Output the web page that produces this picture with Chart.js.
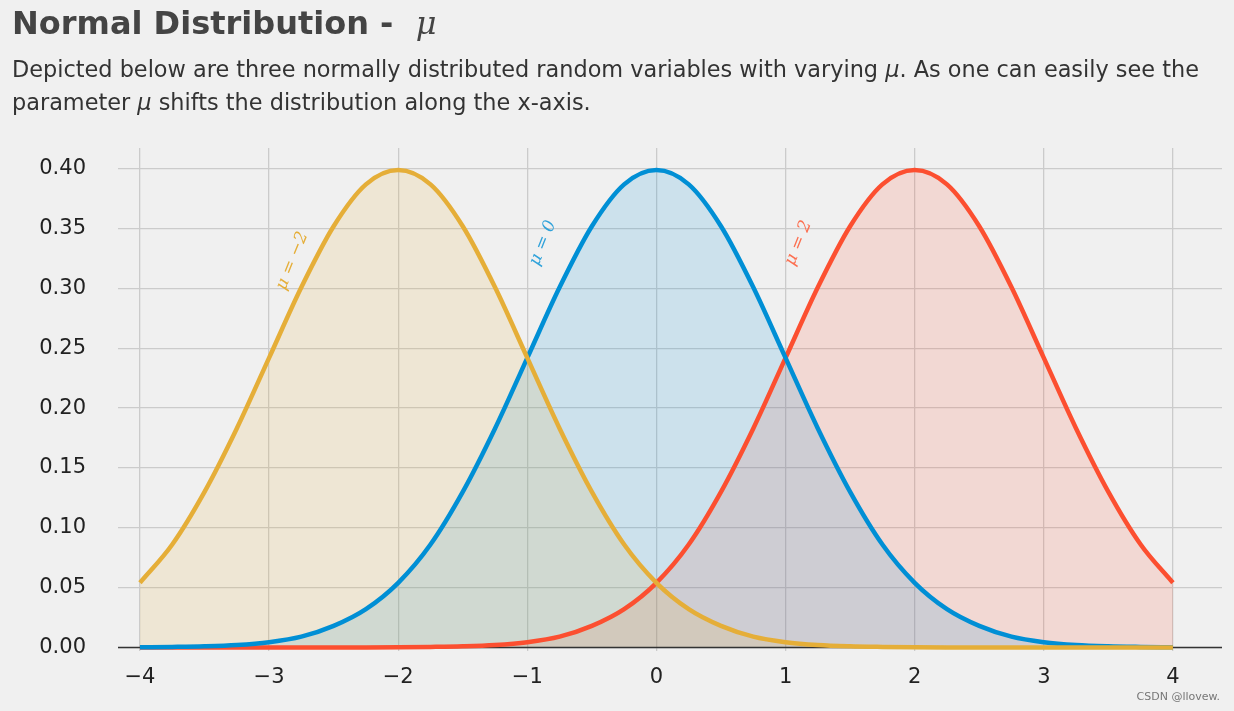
<!DOCTYPE html>
<html>
<head>
<meta charset="utf-8">
<script src="https://cdn.jsdelivr.net/npm/chart.js@4/dist/chart.umd.min.js"></script>
<style>
  body { margin: 0; background: #f0f0f0; font-family: "DejaVu Sans", sans-serif; }
  #wrap { position: relative; width: 1234px; height: 711px; }
  #title { position: absolute; left: 12px; top: 4px; font-size: 32px; font-weight: bold; color: #444; }
  #title i { font-weight: normal; font-family: "DejaVu Serif", serif; }
  #sub { position: absolute; left: 12px; top: 53px; font-size: 22.4px; line-height: 33px; color: #333; width: 1222px; }
  #mark { position: absolute; right: 14px; bottom: 8px; font-size: 11px; color: #777; }
  canvas { position: absolute; left: 0; top: 0; }
</style>
</head>
<body>
<div id="wrap">
  <canvas id="c" width="1234" height="711"></canvas>
  <div id="title">Normal Distribution -&nbsp; <i>μ</i></div>
  <div id="sub">Depicted below are three normally distributed random variables with varying <i>μ</i>. As one can easily see the parameter <i>μ</i> shifts the distribution along the x-axis.</div>
  <div id="mark">CSDN @llovew.</div>
</div>
<script>
// x positions (step 0.25 from -4 to 4)
const xs = [-4,-3.75,-3.5,-3.25,-3,-2.75,-2.5,-2.25,-2,-1.75,-1.5,-1.25,-1,-0.75,-0.5,-0.25,0,
            0.25,0.5,0.75,1,1.25,1.5,1.75,2,2.25,2.5,2.75,3,3.25,3.5,3.75,4];
const muMinus2 = [0.054,0.086,0.130,0.183,0.242,0.301,0.352,0.387,0.399,0.387,0.352,0.301,0.242,0.183,0.130,0.086,0.054,
                  0.032,0.018,0.009,0.0044,0.002,0.0009,0.0004,0.0001,0,0,0,0,0,0,0,0];
const muZero = [0.0001,0.0004,0.0009,0.002,0.0044,0.009,0.018,0.032,0.054,0.086,0.130,0.183,0.242,0.301,0.352,0.387,0.399,
                0.387,0.352,0.301,0.242,0.183,0.130,0.086,0.054,0.032,0.018,0.009,0.0044,0.002,0.0009,0.0004,0.0001];
const muPlus2 = [0,0,0,0,0,0,0,0,0.0001,0.0004,0.0009,0.002,0.0044,0.009,0.018,0.032,0.054,
                 0.086,0.130,0.183,0.242,0.301,0.352,0.387,0.399,0.387,0.352,0.301,0.242,0.183,0.130,0.086,0.054];
const xTicks = [-4,-3,-2,-1,0,1,2,3,4];
const yTicks = [0,0.05,0.1,0.15,0.2,0.25,0.3,0.35,0.4];
const labels = [
  { text: 'μ = −2', x: -2.82, y: 0.323, color: '#e5ae38' },
  { text: 'μ = 0', x: -0.88, y: 0.338, color: '#30a2da' },
  { text: 'μ = 2', x: 1.1, y: 0.338, color: '#fc6f50' }
];

function pts(vals) { return xs.map((x, i) => ({ x: x, y: vals[i] })); }

function ds(vals, color, fill) {
  return { data: pts(vals), borderColor: color, backgroundColor: fill, borderWidth: 4.5,
           pointRadius: 0, fill: 'origin', tension: 0.4, cubicInterpolationMode: 'monotone' };
}

const labelPlugin = {
  id: 'muLabels',
  beforeDatasetsDraw(chart) {
    // zero line under the curves
    const ctx = chart.ctx, y0 = chart.scales.y.getPixelForValue(0);
    ctx.save();
    ctx.strokeStyle = '#333';
    ctx.lineWidth = 1.5;
    ctx.beginPath();
    ctx.moveTo(chart.chartArea.left, y0);
    ctx.lineTo(chart.chartArea.right, y0);
    ctx.stroke();
    ctx.restore();
  },
  afterDatasetsDraw(chart) {
    const ctx = chart.ctx, sx = chart.scales.x, sy = chart.scales.y;
    labels.forEach(l => {
      ctx.save();
      ctx.translate(sx.getPixelForValue(l.x), sy.getPixelForValue(l.y));
      ctx.rotate(-68 * Math.PI / 180);
      ctx.font = 'italic 17px "DejaVu Serif"';
      ctx.fillStyle = l.color;
      ctx.textAlign = 'center';
      ctx.textBaseline = 'middle';
      ctx.fillText(l.text, 0, 0);
      ctx.restore();
    });
  }
};

new Chart(document.getElementById('c'), {
  type: 'line',
  data: { datasets: [
    ds(muMinus2, '#e5ae38', 'rgba(229,174,56,0.15)'),
    ds(muZero, '#008fd5', 'rgba(0,143,213,0.15)'),
    ds(muPlus2, '#fc4f30', 'rgba(252,79,48,0.15)')
  ] },
  options: {
    responsive: false,
    animation: false,
    layout: { padding: { top: 148, right: 12, left: 0, bottom: 0 } },
    plugins: { legend: { display: false }, tooltip: { enabled: false }, filler: { drawTime: 'beforeDatasetsDraw' } },
    scales: {
      x: {
        type: 'linear', min: -4.17, max: 4.38,
        afterBuildTicks: s => { s.ticks = xTicks.map(v => ({ value: v })); },
        afterFit: s => { s.height = 60; },
        ticks: { color: '#222', font: { size: 21, family: 'DejaVu Sans' }, padding: 14,
                 callback: v => String(v).replace('-', '−') },
        grid: { color: '#cbcbcb', lineWidth: 1.3, drawTicks: false },
        border: { display: false }
      },
      y: {
        min: -0.003, max: 0.4174,
        afterBuildTicks: s => { s.ticks = yTicks.map(v => ({ value: v })); },
        afterFit: s => { s.width = 118; },
        ticks: { color: '#222', font: { size: 21, family: 'DejaVu Sans' }, padding: 32,
                 callback: v => v.toFixed(2) },
        grid: { color: '#cbcbcb', lineWidth: 1.3, drawTicks: false },
        border: { display: false }
      }
    }
  },
  plugins: [labelPlugin]
});
</script>
</body>
</html>
